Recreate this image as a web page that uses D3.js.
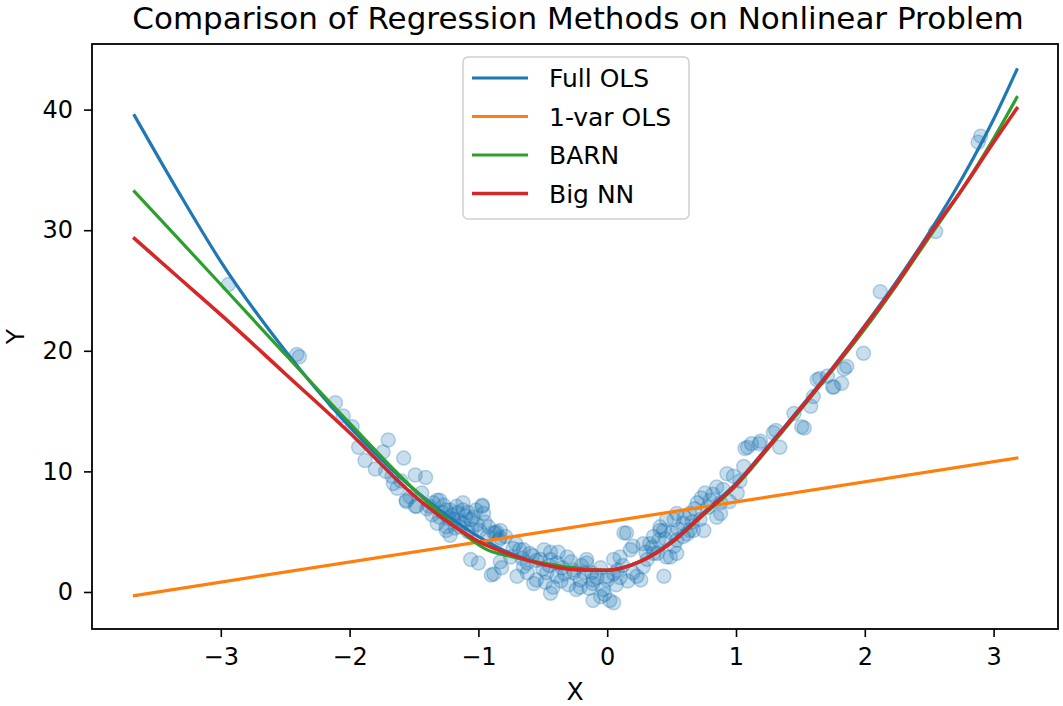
<!DOCTYPE html>
<html>
<head>
<meta charset="utf-8">
<script src="https://cdn.jsdelivr.net/npm/d3@7"></script>
<style>
  body { margin: 0; background: #fff; }
  svg { font-family: "DejaVu Sans", sans-serif; }
</style>
</head>
<body>
<svg id="chart" width="1063" height="706"></svg>
<script>
// values
const xTicks = [-3, -2, -1, 0, 1, 2, 3];
const yTicks = [0, 10, 20, 30, 40];

const gridX   = [-3.67, -3.33, -3, -2.5, -2, -1.5, -1.25, -1, -0.75, -0.5, -0.25, 0, 0.25, 0.5, 0.75, 1, 1.25, 1.5, 1.75, 2, 2.25, 2.5, 2.75, 3, 3.18];
const fullOls = [39.5, 33.2, 27.4, 20.0, 13.7, 8.5, 6.4, 4.6, 3.2, 2.3, 1.9, 1.8, 2.5, 4.2, 6.6, 9.0, 12.1, 15.3, 18.6, 22.1, 25.8, 29.8, 34.2, 39.2, 43.3];
const bigNn   = [29.3, 26.1, 23.0, 18.1, 13.2, 8.0, 5.9, 4.2, 3.1, 2.3, 1.85, 1.8, 2.5, 4.1, 6.5, 8.9, 12.0, 15.2, 18.5, 22.0, 25.6, 29.6, 33.3, 37.3, 40.1];

const barnX = [-3.67, -3.33, -3, -2.5, -2, -1.5, -1.25, -1.05, -0.95, -0.75, -0.5, -0.25, 0, 0.25, 0.5, 0.75, 1, 1.25, 1.5, 1.75, 2, 2.25, 2.5, 2.75, 3, 3.18];
const barn  = [33.2, 29.3, 25.5, 19.7, 14.0, 8.5, 6.1, 4.3, 3.6, 2.95, 2.4, 2.0, 1.8, 2.5, 4.1, 6.4, 8.8, 11.9, 15.1, 18.4, 21.8, 25.5, 29.4, 33.3, 37.6, 41.0];

const olsX = [-3.67, 3.18];
const ols  = [-0.3, 11.1];

const points = [
  [-2.94,25.5],[-2.41,19.7],[-2.39,19.5],[-2.11,15.7],[-1.98,13.7],[-1.70,12.6],[-1.88,10.9],[-1.58,11.1],
  [-1.74,11.6],[-1.49,9.7],[-1.41,9.5],[-1.66,9.0],[-1.67,9.6],[-1.63,8.6],[-1.53,7.9],[-1.49,7.1],
  [-1.56,7.5],[-1.35,7.4],[-1.30,7.6],[-1.25,6.8],[-1.17,7.1],[-1.12,6.8],[-0.97,7.1],[-0.96,6.5],
  [-1.06,6.0],[-1.01,5.6],[-1.12,5.7],[-1.19,6.0],[-1.30,6.2],[-1.25,5.1],[-1.22,4.7],[-1.32,5.7],
  [-0.88,4.9],[-0.83,5.1],[-0.84,4.3],[-0.79,4.6],[-1.06,2.7],[-1.00,2.4],[-0.83,2.5],[-0.82,2.0],
  [-0.90,1.4],[-1.38,7.1],[-1.04,6.2],[-1.56,7.6],[-1.48,7.1],[-1.32,7.6],[-1.22,6.8],[-1.12,7.4],
  [-0.97,7.2],[-1.25,5.4],[-0.86,5.0],[-0.83,4.5],[-1.20,6.4],[-1.15,5.9],[-1.10,6.3],[-1.28,6.6],
  [-1.05,5.2],[-0.95,5.8],[-1.18,5.3],
  [-1.80,10.2],[-1.72,10.0],[-1.60,9.2],[-1.44,8.2],[-1.40,6.9],[-1.36,6.4],[-1.27,7.2],[-1.23,6.1],
  [-1.16,6.6],[-1.14,5.4],[-1.08,6.6],[-1.08,5.0],[-1.02,6.8],[-0.99,5.1],[-0.93,4.6],[-0.92,5.4],
  [-2.05,14.6],[-1.93,12.0],
  [-0.71,4.0],[-0.68,3.5],[-0.60,3.2],[-0.62,2.4],[-0.52,2.7],[-0.44,3.3],[-0.39,2.4],[-0.47,1.6],
  [-0.55,1.0],[-0.42,0.4],[-0.31,2.9],[-0.26,1.8],[-0.21,1.0],[-0.24,0.2],[-0.16,2.7],[-0.11,0.7],
  [-0.05,-0.4],[0.02,-0.7],[0.00,1.0],[0.08,1.8],[0.15,4.9],[0.20,3.8],[0.10,2.9],[0.20,1.6],
  [0.26,1.0],[0.31,2.7],[0.39,3.2],[0.36,4.6],[0.44,5.1],[0.46,6.0],[0.52,3.8],[0.59,5.7],
  [0.64,6.5],[0.67,5.1],[0.54,6.5],[0.70,7.4],
  [-0.87,4.9],[-0.88,1.5],[-0.65,3.5],[-0.65,2.1],[-0.57,0.7],[-0.49,3.5],[-0.44,2.7],[-0.39,1.3],
  [-0.44,-0.1],[-0.26,1.6],[-0.21,0.4],[-0.16,2.4],[-0.11,1.0],[-0.11,-0.7],[-0.03,0.2],[0.05,-0.9],
  [0.00,1.3],[0.05,2.7],[0.13,4.9],[0.18,3.5],[0.23,1.3],[0.28,2.1],[0.33,4.0],[0.41,5.1],
  [0.49,2.9],[0.59,4.6],[0.44,1.3],[-0.70,1.3],[-0.75,2.9],
  [-0.35,2.0],[-0.28,2.5],[-0.20,2.2],[-0.12,1.6],[-0.05,2.0],[-0.45,2.2],[-0.55,2.6],[-0.38,3.3],
  [0.05,1.5],[0.12,2.2],
  [-0.62,1.6],[-0.58,3.0],[-0.50,1.9],[-0.48,0.8],[-0.36,0.9],[-0.33,1.5],[-0.30,0.6],[-0.18,1.6],
  [-0.14,0.3],[-0.08,1.2],[-0.02,-0.2],[0.07,0.6],[0.10,1.2],[0.16,0.9],[-0.73,3.6],[-0.66,2.8],
  [0.28,4.0],[0.41,5.4],[0.52,6.0],[0.54,4.3],[0.64,5.1],[0.75,5.1],[0.80,7.6],[0.76,8.2],
  [0.85,8.7],[0.93,9.8],[0.88,6.5],[1.01,8.2],[0.98,9.6],[1.06,10.4],[1.07,11.9],[1.12,12.3],
  [1.19,12.5],[1.31,13.4],[1.34,12.0],[1.45,14.8],[1.51,13.7],[1.58,15.4],[1.60,16.2],[1.63,17.6],
  [1.75,17.0],[1.71,17.9],[0.54,3.2],[0.36,3.2],[0.46,2.9],[0.85,6.2],[0.88,7.4],
  [0.45,4.4],[0.55,5.2],[0.62,4.8],[0.72,6.0],[0.78,7.0],[0.66,5.8],[0.50,4.9],
  [0.60,6.2],[0.68,6.9],[0.73,7.8],[0.82,8.1],[0.90,8.5],[0.95,7.5],[1.03,9.2],[0.35,3.7],
  [0.30,3.3],[0.40,4.3],
  [1.99,19.8],[1.86,18.7],[1.82,17.3],[1.65,17.7],[1.29,13.2],[1.09,12.0],[1.53,13.6],
  [2.90,37.8],[2.88,37.3],[2.55,29.9],[2.12,24.9],[1.84,18.5],[1.76,17.0],[1.18,12.3]
];

const seriesNames = ['Full OLS', '1-var OLS', 'BARN', 'Big NN'];
const seriesColors = ['#1f77b4', '#ff7f0e', '#2ca02c', '#d62728'];

const svg = d3.select('#chart');
const plotLeft = 92, plotRight = 1058, plotTop = 44, plotBottom = 629;

const x = d3.scaleLinear().domain([-4.0, 3.5]).range([plotLeft, plotRight]);
const y = d3.scaleLinear().domain([-3.07, 45.44]).range([plotBottom, plotTop]);

// scatter
svg.append('g')
    .selectAll('circle')
    .data(points)
    .join('circle')
    .attr('cx', d => x(d[0]))
    .attr('cy', d => y(d[1]))
    .attr('r', 7)
    .attr('fill', '#1f77b4')
    .attr('fill-opacity', 0.24)
    .attr('stroke', '#1f77b4')
    .attr('stroke-opacity', 0.3)
    .attr('stroke-width', 1.5);

// lines
let line = d3.line()
    .x(d => x(d[0]))
    .y(d => y(d[1]))
    .curve(d3.curveMonotoneX);

let lineData = [
    gridX.map((v, i) => [v, fullOls[i]]),
    olsX.map((v, i) => [v, ols[i]]),
    barnX.map((v, i) => [v, barn[i]]),
    gridX.map((v, i) => [v, bigNn[i]])
];

lineData.forEach((d, i) => {
    svg.append('path')
        .datum(d)
        .attr('d', line)
        .attr('fill', 'none')
        .attr('stroke', seriesColors[i])
        .attr('stroke-width', i === 3 ? 3.6 : 3.2)
        .attr('stroke-linejoin', 'round')
        .attr('stroke-linecap', 'square');
});

// axes
let xAxis = svg.append('g')
    .attr('transform', 'translate(0,' + plotBottom + ')')
    .call(d3.axisBottom(x).tickValues(xTicks).tickSize(8).tickSizeOuter(0).tickPadding(11).tickFormat(d3.format('d')));
let yAxis = svg.append('g')
    .attr('transform', 'translate(' + plotLeft + ',0)')
    .call(d3.axisLeft(y).tickValues(yTicks).tickSize(8).tickSizeOuter(0).tickPadding(11).tickFormat(d3.format('d')));

[xAxis, yAxis].forEach(a => {
    a.selectAll('text').attr('font-size', 24).attr('fill', '#000').attr('font-family', '"DejaVu Sans", sans-serif');
    a.selectAll('line').attr('stroke', '#000').attr('stroke-width', 1.6);
    a.select('.domain').remove();
});

// frame
svg.append('rect')
    .attr('x', plotLeft).attr('y', plotTop)
    .attr('width', plotRight - plotLeft).attr('height', plotBottom - plotTop)
    .attr('fill', 'none')
    .attr('stroke', '#000')
    .attr('stroke-width', 1.8);

// labels
svg.append('text')
    .attr('x', 578).attr('y', 29)
    .attr('text-anchor', 'middle')
    .attr('font-size', 31)
    .text('Comparison of Regression Methods on Nonlinear Problem');

svg.append('text')
    .attr('x', (plotLeft + plotRight) / 2).attr('y', 700)
    .attr('text-anchor', 'middle')
    .attr('font-size', 25)
    .text('X');

svg.append('text')
    .attr('transform', 'translate(24,' + ((plotTop + plotBottom) / 2) + ') rotate(-90)')
    .attr('text-anchor', 'middle')
    .attr('font-size', 25)
    .text('Y');

// legend
let legend = svg.append('g').attr('transform', 'translate(463,57)');
legend.append('rect')
    .attr('width', 226).attr('height', 162)
    .attr('rx', 5)
    .attr('fill', '#fff').attr('fill-opacity', 0.8)
    .attr('stroke', '#d0d0d0').attr('stroke-width', 1.5);

seriesNames.forEach((name, i) => {
    let ry = 21 + i * 38.5;
    legend.append('line')
        .attr('x1', 9).attr('x2', 65)
        .attr('y1', ry).attr('y2', ry)
        .attr('stroke', seriesColors[i])
        .attr('stroke-width', i === 3 ? 3.6 : 3.2);
    legend.append('text')
        .attr('x', 86).attr('y', ry)
        .attr('dy', '0.36em')
        .attr('font-size', 25)
        .text(name);
});
</script>
</body>
</html>
